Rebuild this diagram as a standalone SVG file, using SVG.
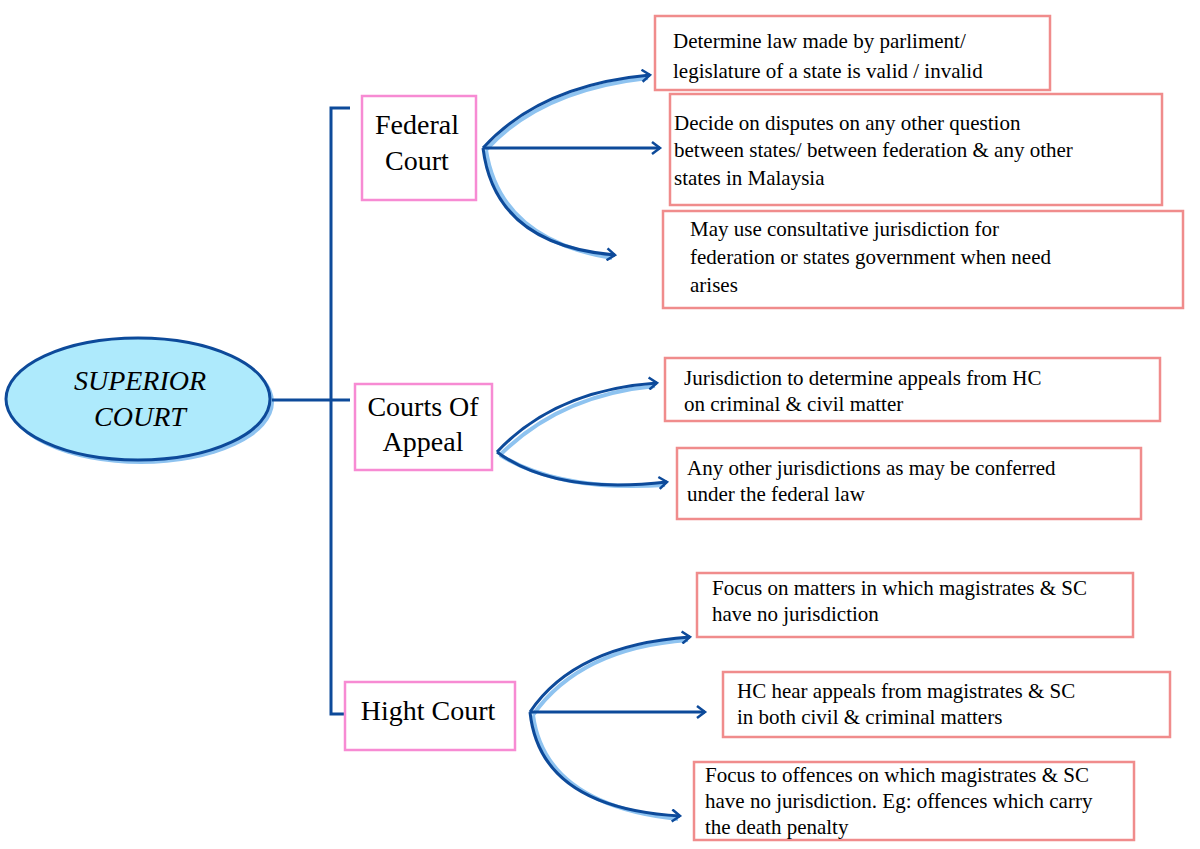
<svg xmlns="http://www.w3.org/2000/svg" width="1200" height="849" viewBox="0 0 1200 849">
<defs>
<style>
.t{font-family:"Liberation Serif",serif;font-size:21px;fill:#000}
.n{font-family:"Liberation Serif",serif;font-size:28px;fill:#000;text-anchor:middle}
.b{fill:#fff;stroke:#f08c8c;stroke-width:2.5}
.p{fill:#fff;stroke:#f78bd3;stroke-width:2.5}
.c{fill:none;stroke:#0d4a9a;stroke-width:3}
.s{fill:none;stroke:#8ec3f0;stroke-width:4}
</style>
<marker id="a" markerWidth="14" markerHeight="14" refX="10" refY="7" orient="auto" markerUnits="userSpaceOnUse">
<path d="M2,1 L10,7 L2,13" fill="none" stroke="#0d4a9a" stroke-width="2.5"/>
</marker>
</defs>
<g id="superior">
<ellipse cx="141" cy="402" rx="133" ry="62" fill="#8ec3f0"/>
<ellipse cx="138" cy="399" rx="132" ry="61" fill="#aeeafc" stroke="#0d4a9a" stroke-width="3"/>
<text class="n" x="140" y="390" font-style="italic">SUPERIOR</text>
<text class="n" x="140" y="426" font-style="italic">COURT</text>
</g>
<g id="connectors">
<path class="c" d="M272,400 H350 M350,108 H331 V714 H345"/>
<path class="s" d="M486,150 Q540,90 648,78 M486,150 Q500,240 612,258"/>
<path class="c" d="M483,148 Q540,85 650,75" marker-end="url(#a)"/>
<path class="c" d="M483,148 H660" marker-end="url(#a)"/>
<path class="c" d="M483,148 Q495,245 615,255" marker-end="url(#a)"/>
<path class="s" d="M500,455 Q560,395 655,386 M500,455 Q560,492 665,485"/>
<path class="c" d="M497,452 Q555,390 657,383" marker-end="url(#a)"/>
<path class="c" d="M497,452 Q555,495 667,482" marker-end="url(#a)"/>
<path class="s" d="M533,715 Q580,648 688,640 M533,715 Q545,805 678,819"/>
<path class="c" d="M530,712 Q575,645 690,637" marker-end="url(#a)"/>
<path class="c" d="M530,712 H705" marker-end="url(#a)"/>
<path class="c" d="M530,712 Q540,808 680,816" marker-end="url(#a)"/>
</g>
<g id="federal"><rect class="p" x="362" y="96" width="114" height="104"/><text class="n" x="417" y="134">Federal</text><text class="n" x="417" y="170">Court</text></g>
<g id="appeal"><rect class="p" x="355" y="384" width="137" height="86"/><text class="n" x="423" y="416">Courts Of</text><text class="n" x="423" y="451">Appeal</text></g>
<g id="high"><rect class="p" x="345" y="682" width="170" height="68"/><text class="n" x="428" y="720">Hight Court</text></g>
<g id="b1"><rect class="b" x="655" y="16" width="395" height="74"/><text class="t" x="673" y="48">Determine law made by parliment/</text><text class="t" x="673" y="78">legislature of a state is valid / invalid</text></g>
<g id="b2"><rect class="b" x="670" y="94" width="492" height="111"/><text class="t" x="674" y="130">Decide on disputes on any other question</text><text class="t" x="674" y="157">between states/ between federation &amp; any other</text><text class="t" x="674" y="185">states in Malaysia</text></g>
<g id="b3"><rect class="b" x="663" y="211" width="520" height="97"/><text class="t" x="690" y="236">May use consultative jurisdiction for</text><text class="t" x="690" y="264">federation or states government when need</text><text class="t" x="690" y="292">arises</text></g>
<g id="b4"><rect class="b" x="665" y="358" width="495" height="63"/><text class="t" x="684" y="385">Jurisdiction to determine appeals from HC</text><text class="t" x="684" y="411">on criminal &amp; civil matter</text></g>
<g id="b5"><rect class="b" x="677" y="448" width="464" height="71"/><text class="t" x="687" y="475">Any other jurisdictions as may be conferred</text><text class="t" x="687" y="501">under the federal law</text></g>
<g id="b6"><rect class="b" x="697" y="573" width="436" height="64"/><text class="t" x="712" y="595">Focus on matters in which magistrates &amp; SC</text><text class="t" x="712" y="621">have no jurisdiction</text></g>
<g id="b7"><rect class="b" x="723" y="672" width="447" height="65"/><text class="t" x="737" y="698">HC hear appeals from magistrates &amp; SC</text><text class="t" x="737" y="724">in both civil &amp; criminal matters</text></g>
<g id="b8"><rect class="b" x="694" y="762" width="440" height="78"/><text class="t" x="705" y="782">Focus to offences on which magistrates &amp; SC</text><text class="t" x="705" y="808">have no jurisdiction. Eg: offences which carry</text><text class="t" x="705" y="834">the death penalty</text></g>
</svg>
